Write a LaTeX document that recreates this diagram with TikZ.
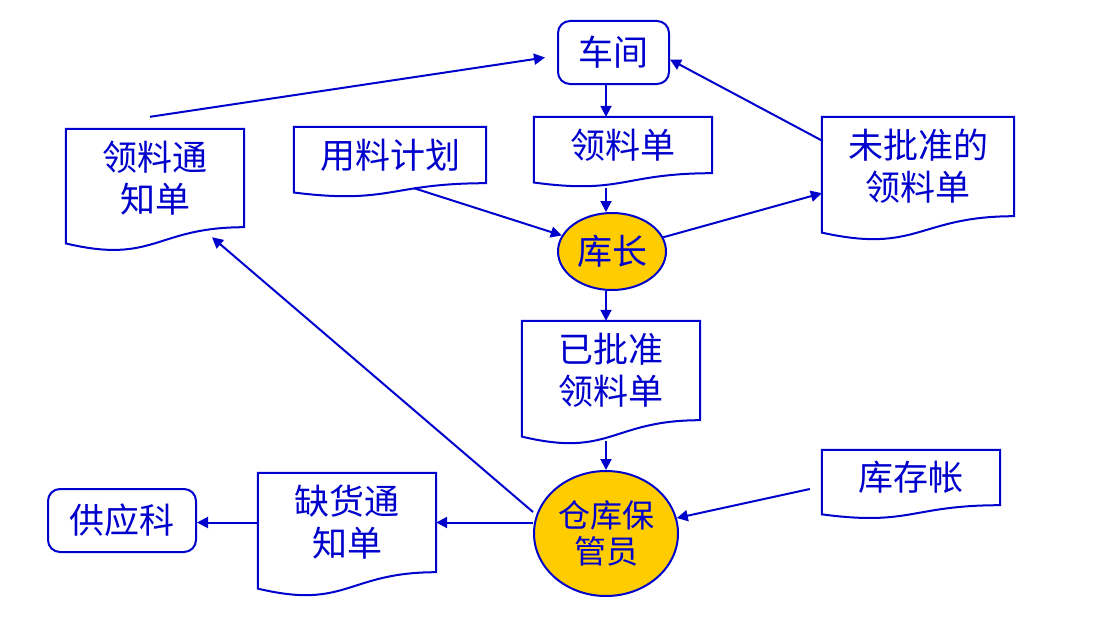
\documentclass[tikz,border=0pt]{standalone}
\usepackage{fontspec}
\newfontfamily\cjk{Noto Sans CJK SC}
\usetikzlibrary{arrows.meta,calc,shapes.geometric}
\definecolor{lineblue}{RGB}{0,0,204}
\definecolor{ovalgold}{RGB}{255,204,0}
\tikzset{
  cjktext/.style={text=lineblue, align=center, font=\cjk\fontsize{35}{42}\selectfont},
  doc/.style={cjktext, inner sep=0pt},
  box/.style={cjktext, draw=lineblue, line width=2pt, rounded corners=12pt, inner sep=0pt},
  oval/.style={cjktext, ellipse, draw=lineblue, fill=ovalgold, line width=2pt, inner sep=0pt},
  arr/.style={draw=lineblue, line width=2pt, -{Triangle[length=11pt,width=11pt]}}
}
\begin{document}
\begin{tikzpicture}[x=1pt,y=-1pt]
  \useasboundingbox (0,0) rectangle (1110,634);
  % rounded boxes
  \node[box, minimum width=111pt, minimum height=63pt] (cj) at (613.5,52.5) {车间};
  \node[box, minimum width=148pt, minimum height=63pt] (gyk) at (122,520.5) {供应科};
  % documents
  \node[doc, minimum width=178pt, minimum height=98pt] (tz) at (155,178) {领料通\\知单};
  \node[doc, minimum width=192pt, minimum height=56pt] (jh) at (390,155) {用料计划};
  \node[doc, minimum width=178pt, minimum height=56pt] (lld) at (623,145) {领料单};
  \node[doc, minimum width=192pt, minimum height=99pt] (wpz) at (918,166.5) {未批准的\\领料单};
  \node[doc, minimum width=178pt, minimum height=99pt] (ypz) at (611,370.5) {已批准\\领料单};
  \node[doc, minimum width=178pt, minimum height=55pt] (kcz) at (911,477.5) {库存帐};
  \node[doc, minimum width=178pt, minimum height=99pt] (qh) at (347,522.5) {缺货通\\知单};
  \foreach \n in {tz,jh,lld,wpz,ypz,kcz,qh}
    \draw[lineblue, line width=2pt] (\n.north west) -- (\n.north east) -- (\n.south east)
      .. controls (\n.south) and ($(\n.north)!1.380!(\n.south)$) .. ($(\n.north west)!1.165!(\n.south west)$) -- cycle;
  % ovals
  \node[oval, minimum width=108pt, minimum height=77pt] (kz) at (612,251.5) {库长};
  \node[oval, minimum width=144pt, minimum height=125pt, font=\cjk\fontsize{32}{36}\selectfont] (ck) at (606,533.5) {仓库保\\管员};
  % connectors
  \draw[arr] (cj.south -| ck) -- (lld.north -| ck);
  \draw[arr] ($(lld.south -| ck)+(0,15)$) -- (kz.north -| ck);
  \draw[arr] ($(jh.south)+(24,5)$) -- (kz);
  \draw[arr] (kz) -- (wpz);
  \draw[arr] ([yshift=26pt]wpz.west) -- ([yshift=-7pt]cj.east);
  \draw[arr] ([shift={(-5pt,12pt)}]tz.north) -- ([shift={(-12pt,-5pt)}]cj.west);
  \draw[arr] (kz.south -| ck) -- (ypz.north -| ck);
  \draw[arr] ($(ypz.south -| ck)+(0,21)$) -- (ck.north);
  \draw[arr] ([shift={(-12pt,-11.5pt)}]kcz.west) -- (ck);
  \draw[arr] (ck.west |- qh) -- (qh.east);
  \draw[arr] (qh.west) -- (qh.west -| gyk.east);
  \draw[arr] ([yshift=21.5pt]ck.west) -- ([shift={(57pt,-10pt)}]tz.south);
\end{tikzpicture}
\end{document}
